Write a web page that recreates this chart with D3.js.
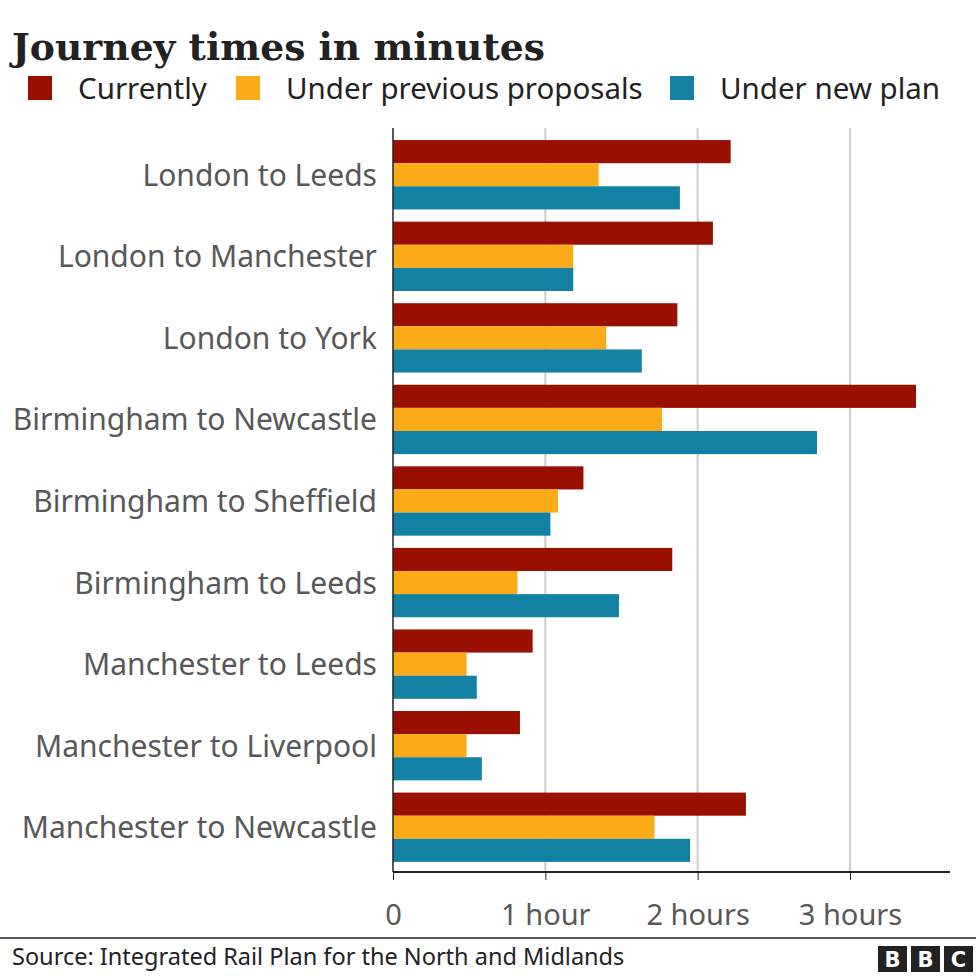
<!DOCTYPE html>
<html><head><meta charset="utf-8">
<script src="https://cdn.jsdelivr.net/npm/d3@7"></script>
<style>body{margin:0;background:#fff}</style></head>
<body><svg id="c" width="976" height="976"></svg>
<script>
const categories=["London to Leeds","London to Manchester","London to York","Birmingham to Newcastle","Birmingham to Sheffield","Birmingham to Leeds","Manchester to Leeds","Manchester to Liverpool","Manchester to Newcastle"];
const currently=[133,126,112,206,75,110,55,50,139];
const previous=[81,71,84,106,65,49,29,29,103];
const newPlan=[113,71,98,167,62,89,33,35,117];
const seriesNames=["Currently","Under previous proposals","Under new plan"];
const colors=["#990f00","#fbab18","#1381a3"];
const tickValues=[0,60,120,180];
const tickLabels=["0","1 hour","2 hours","3 hours"];

const svg=d3.select("#c");
const font="'Noto Sans', 'Open Sans', sans-serif";
svg.append("text").attr("x",12).attr("y",60).text("Journey times in minutes")
  .attr("font-family","'DejaVu Serif', serif").attr("font-weight","bold").attr("font-size",37.7).attr("fill","#222");
const legX=[28,236,670];
seriesNames.forEach((n,i)=>{
  svg.append("rect").attr("x",legX[i]).attr("y",76).attr("width",24).attr("height",24).attr("fill",colors[i]);
  svg.append("text").attr("x",legX[i]+50).attr("y",99).text(n).attr("font-family",font).attr("font-size",29.5).attr("fill","#222");
});
const x=d3.scaleLinear().domain([0,180]).range([393,850]);
const y=d3.scaleBand().domain(categories).range([136,866]).paddingInner(0.15).paddingOuter(0.05);
const yi=d3.scaleBand().domain([0,1,2]).range([0,y.bandwidth()]);
svg.selectAll(".g").data(tickValues.slice(1)).join("line")
  .attr("x1",d=>x(d)).attr("x2",d=>x(d)).attr("y1",128).attr("y2",872).attr("stroke","#cccccc").attr("stroke-width",2);
const data=[currently,previous,newPlan];
categories.forEach((c,ci)=>{
  data.forEach((s,si)=>{
    svg.append("rect").attr("x",x(0)).attr("y",y(c)+yi(si)).attr("width",x(s[ci])-x(0)).attr("height",yi.bandwidth()).attr("fill",colors[si]);
  });
  svg.append("text").attr("x",377).attr("y",y(c)+y.bandwidth()/2+11).attr("text-anchor","end")
    .text(c).attr("font-family",font).attr("font-size",30).attr("fill","#585858");
});
svg.append("line").attr("x1",393).attr("x2",393).attr("y1",128).attr("y2",872).attr("stroke","#222").attr("stroke-width",1.5);
const ax=svg.append("g").attr("transform","translate(0,872)").call(d3.axisBottom(x).tickValues(tickValues).tickFormat((d,i)=>tickLabels[i]).tickSize(8));
ax.select(".domain").remove();
svg.append("line").attr("x1",393).attr("x2",950).attr("y1",872).attr("y2",872).attr("stroke","#222").attr("stroke-width",2);
ax.selectAll("line").attr("stroke","#222");
ax.selectAll("text").attr("font-family",font).attr("font-size",29).attr("fill","#585858").attr("dy","1.45em");
svg.append("line").attr("x1",0).attr("x2",976).attr("y1",938).attr("y2",938).attr("stroke","#222").attr("stroke-width",1.5);
svg.append("text").attr("x",12).attr("y",965).text("Source: Integrated Rail Plan for the North and Midlands").attr("font-family",font).attr("font-size",23.5).attr("fill","#222");
["B","B","C"].forEach((l,i)=>{
  svg.append("rect").attr("x",878+i*33).attr("y",946).attr("width",29).attr("height",26).attr("fill","#222");
  svg.append("text").attr("x",892.5+i*33).attr("y",967).attr("text-anchor","middle").text(l).attr("font-family","'DejaVu Sans', sans-serif").attr("font-weight","bold").attr("font-size",21).attr("fill","#fff");
});
</script></body></html>
